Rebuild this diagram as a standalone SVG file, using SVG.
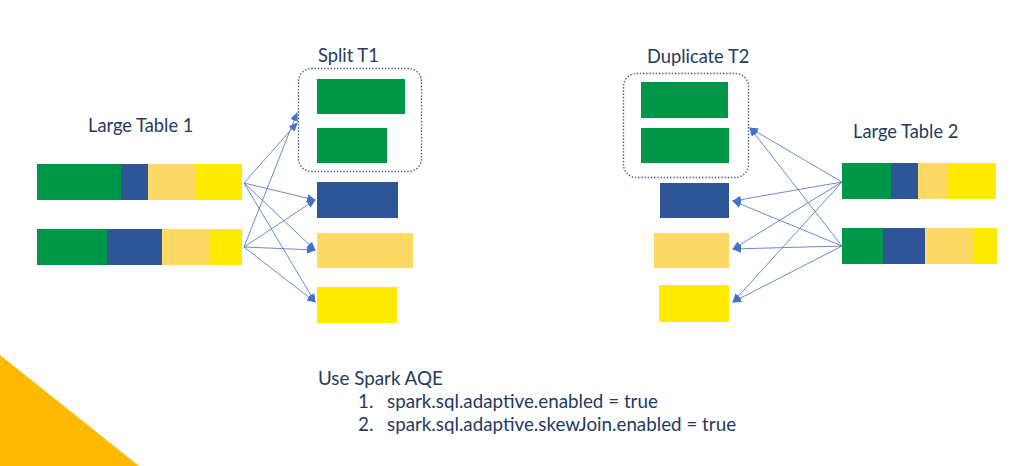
<svg xmlns="http://www.w3.org/2000/svg" width="1012" height="466" viewBox="0 0 1012 466">
<defs>
<style>
text{font-family:Lato,"Liberation Sans",sans-serif;fill:#243A5E;}
.lbl{font-size:18.3px;}
.note{font-size:18.8px;}
.g{fill:#00964A}.b{fill:#2E5597}.o{fill:#FFD966}.y{fill:#FFEA00}
.grp{fill:none;stroke:#3E5A86;stroke-width:1.4;stroke-dasharray:1.4 1.8;}
.c line{stroke:#5A7DBF;stroke-width:0.9;marker-end:url(#ah);}
</style>
<marker id="ah" markerUnits="userSpaceOnUse" markerWidth="9" markerHeight="8" refX="8" refY="4" orient="auto">
<path d="M0,0 L9,4 L0,8 Z" fill="#4472C4"/>
</marker>
</defs>
<rect width="1012" height="466" fill="#fff"/>
<polygon points="0,355 139,466 0,466" fill="#FFBA00"/>

<g id="large-table-1">
<text class="lbl" x="88" y="132">Large Table 1</text>
<rect class="g" x="37" y="164" width="84" height="36"/>
<rect class="b" x="121" y="164" width="27" height="36"/>
<rect class="o" x="148" y="164" width="48" height="36"/>
<rect class="y" x="196" y="164" width="46" height="36"/>
<rect class="g" x="37" y="229" width="70" height="36"/>
<rect class="b" x="107" y="229" width="55" height="36"/>
<rect class="o" x="162" y="229" width="48" height="36"/>
<rect class="y" x="210" y="229" width="32" height="36"/>
</g>

<g id="split-t1">
<text class="lbl" x="318" y="62">Split T1</text>
<rect class="grp" x="298.5" y="68.5" width="123" height="103" rx="13"/>
<rect class="g" x="317" y="79" width="88" height="35"/>
<rect class="g" x="317" y="128" width="70" height="35"/>
</g>
<g id="t1-blue"><rect class="b" x="317" y="182" width="81" height="36"/></g>
<g id="t1-orange"><rect class="o" x="317" y="233" width="96" height="35"/></g>
<g id="t1-yellow"><rect class="y" x="317" y="287" width="80" height="36"/></g>

<g id="duplicate-t2">
<text class="lbl" x="647" y="63">Duplicate T2</text>
<rect class="grp" x="623.5" y="73.5" width="125" height="104" rx="13"/>
<rect class="g" x="641" y="82" width="87" height="36"/>
<rect class="g" x="641" y="128" width="88" height="35"/>
</g>
<g id="t2-blue"><rect class="b" x="660" y="183" width="69" height="35"/></g>
<g id="t2-orange"><rect class="o" x="654" y="233" width="75" height="35"/></g>
<g id="t2-yellow"><rect class="y" x="659" y="285" width="70" height="37"/></g>

<g id="large-table-2">
<text class="lbl" x="853" y="138">Large Table 2</text>
<rect class="g" x="842" y="163" width="49" height="36"/>
<rect class="b" x="891" y="163" width="27" height="36"/>
<rect class="o" x="918" y="163" width="29" height="36"/>
<rect class="y" x="947" y="163" width="49" height="36"/>
<rect class="g" x="842" y="228" width="41" height="36"/>
<rect class="b" x="883" y="228" width="42" height="36"/>
<rect class="o" x="925" y="228" width="49" height="36"/>
<rect class="y" x="974" y="228" width="23" height="36"/>
</g>

<g id="connectors" class="c">
<line x1="244" y1="183" x2="297" y2="123"/>
<line x1="244" y1="183" x2="315" y2="200"/>
<line x1="244" y1="183" x2="315" y2="250"/>
<line x1="244" y1="183" x2="315" y2="302"/>
<line x1="244" y1="247" x2="297" y2="113"/>
<line x1="244" y1="247" x2="315" y2="200"/>
<line x1="244" y1="247" x2="315" y2="250"/>
<line x1="244" y1="247" x2="315" y2="302"/>
<line x1="842" y1="182" x2="750" y2="128"/>
<line x1="842" y1="182" x2="733" y2="201"/>
<line x1="842" y1="182" x2="733" y2="249"/>
<line x1="842" y1="182" x2="733" y2="302"/>
<line x1="842" y1="246" x2="750" y2="128"/>
<line x1="842" y1="246" x2="733" y2="201"/>
<line x1="842" y1="246" x2="733" y2="249"/>
<line x1="842" y1="246" x2="733" y2="302"/>
</g>

<g id="notes">
<text class="note" x="318" y="385">Use Spark AQE</text>
<text class="note" x="358" y="408">1.</text>
<text class="note" x="387" y="408">spark.sql.adaptive.enabled = true</text>
<text class="note" x="358" y="431">2.</text>
<text class="note" x="387" y="431">spark.sql.adaptive.skewJoin.enabled = true</text>
</g>
</svg>
